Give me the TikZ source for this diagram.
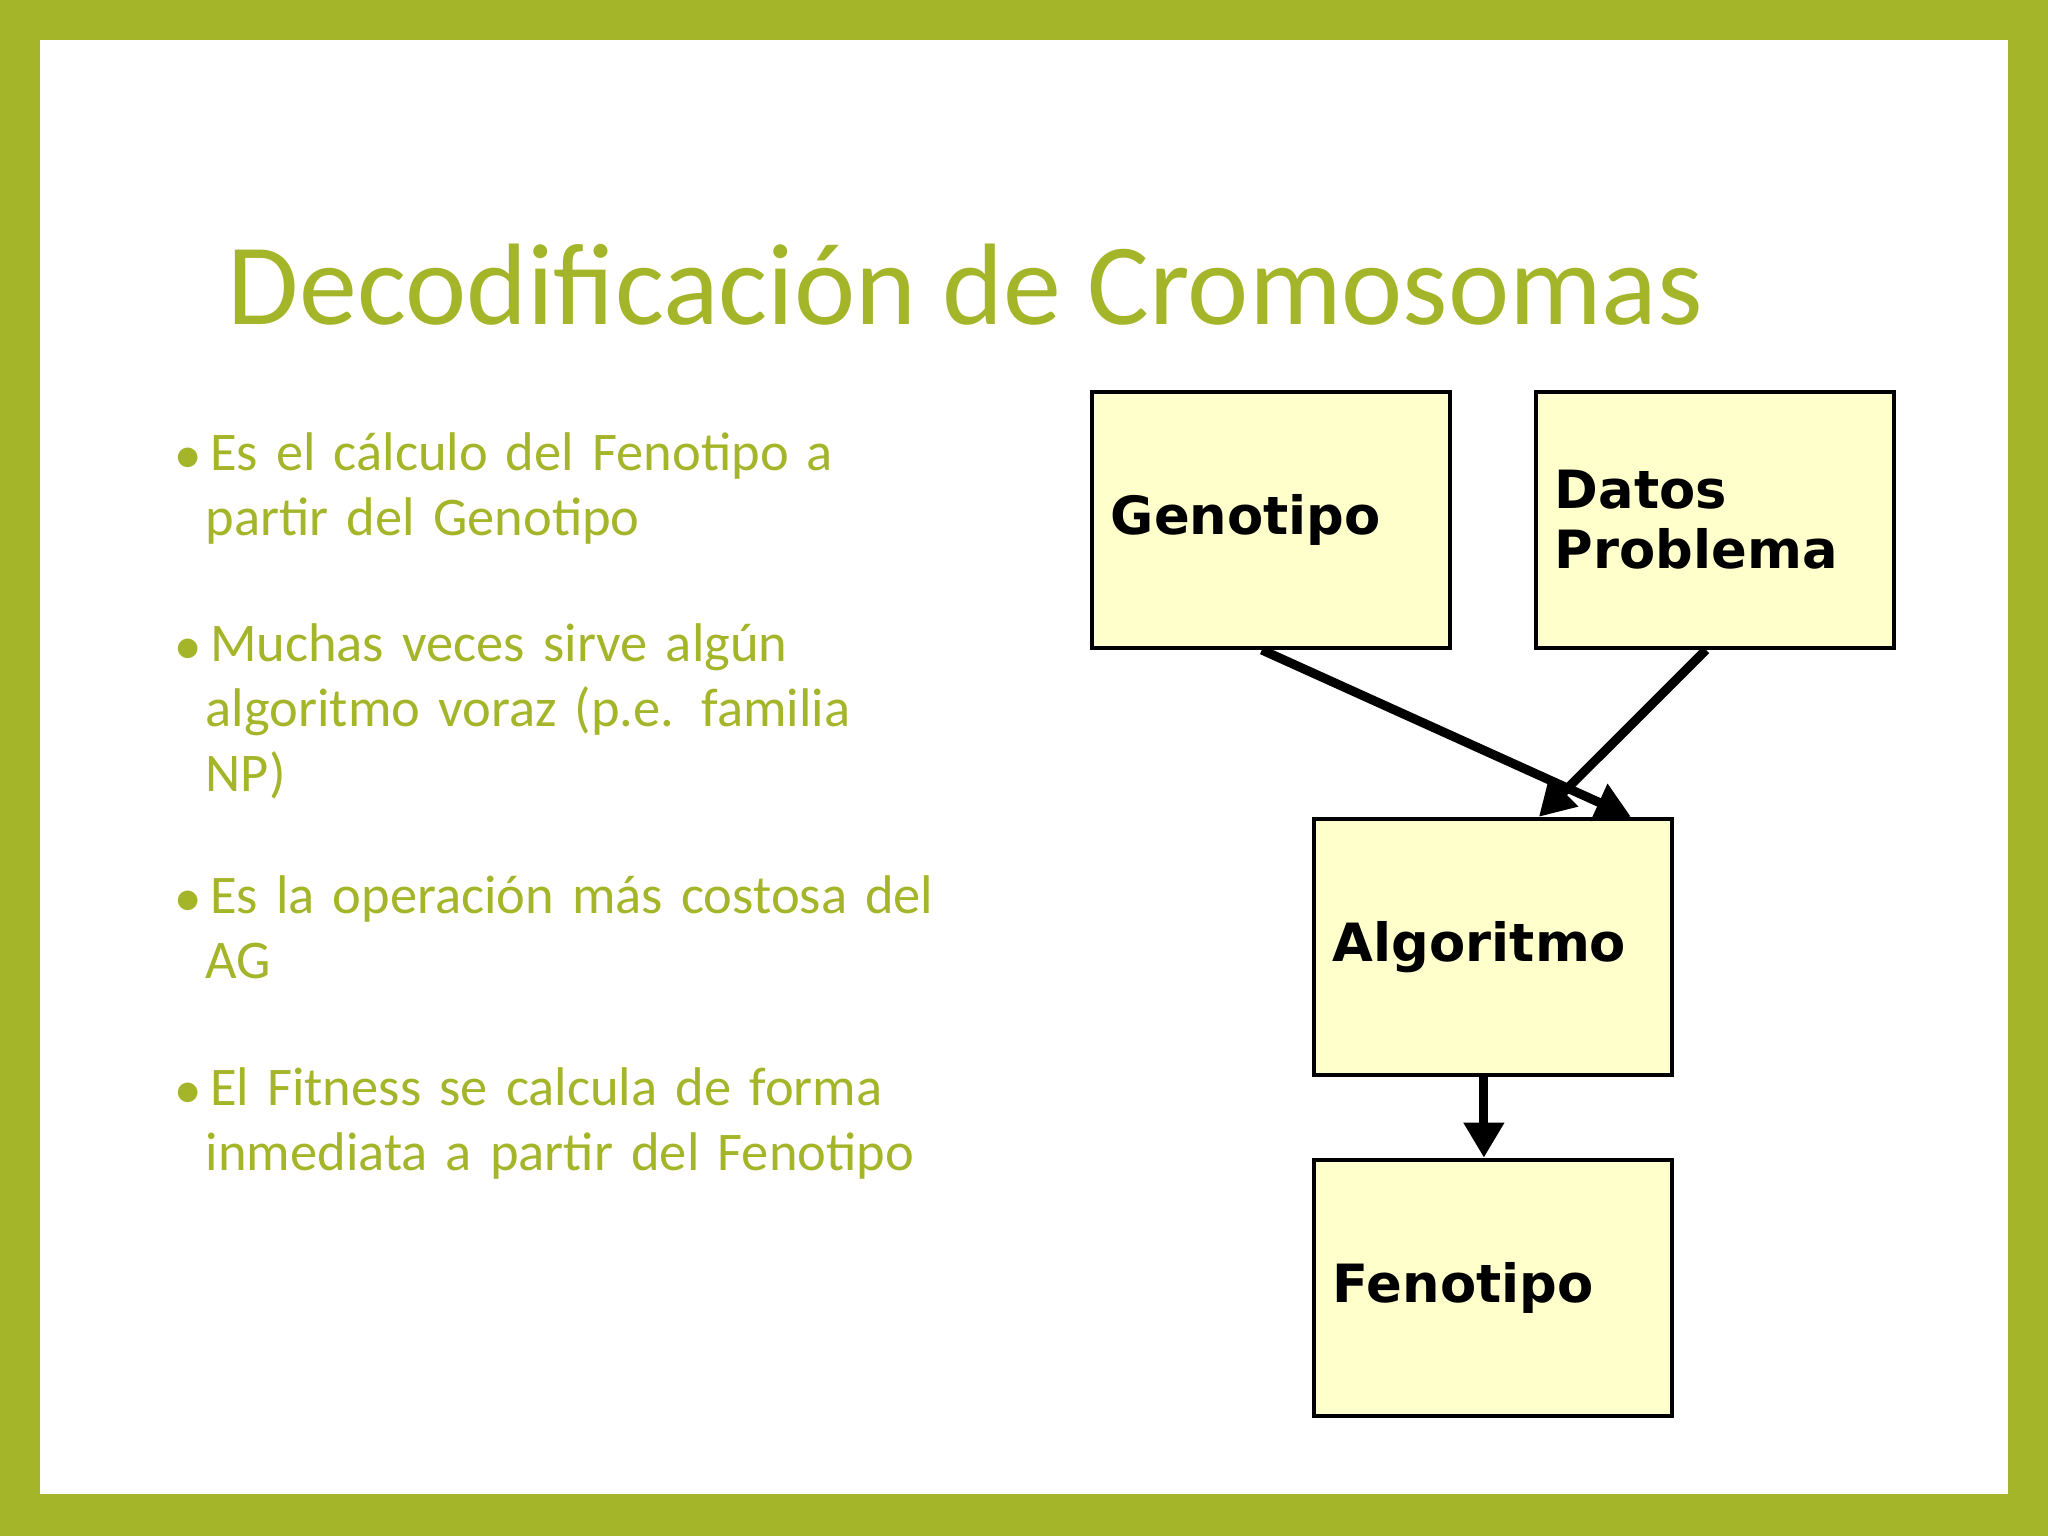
\documentclass[tikz,border=0pt]{standalone}
\usepackage{fontspec}
\setmainfont{Carlito}
\newfontfamily\boxfont{DejaVu Sans}
\usetikzlibrary{arrows.meta}
\definecolor{olive}{HTML}{A5B52A}
\definecolor{boxfill}{HTML}{FFFFCC}
\tikzset{
  stagebox/.style={draw,fill=boxfill,line width=1.2pt,minimum width=3.58cm,minimum height=2.56cm,
    inner sep=0pt,font=\boxfont\bfseries\fontsize{15}{17}\selectfont,align=left,text width=3.2cm},
  flow/.style={line width=2.6pt,-{Triangle[length=10pt,width=11pt]}},
  bullet/.style={anchor=north west,text=olive,font=\fontsize{15.5}{18.5}\selectfont,align=left,text width=7.7cm}
}
\begin{document}
\begin{tikzpicture}[x=0.01306cm,y=-0.01306cm]
  \useasboundingbox (0,0) rectangle (1568,1176);
  \fill[olive] (0,0) rectangle (1568,1176);
  \fill[white] (31,31) rectangle (1537,1144);

  \node (title) at (165,218) [anchor=west,text=olive,font=\fontsize{33}{38}\selectfont] {Decodificación de Cromosomas};

  \node (b1) at (125,322) [bullet] {$\bullet$\,Es el cálculo del Fenotipo a\\\hspace*{0.3cm}partir del Genotipo};
  \node (b2) at (125,468) [bullet] {$\bullet$\,Muchas veces sirve algún\\\hspace*{0.3cm}algoritmo voraz (p.e. familia\\\hspace*{0.3cm}NP)};
  \node (b3) at (125,661) [bullet] {$\bullet$\,Es la operación más costosa del\\\hspace*{0.3cm}AG};
  \node (b4) at (125,808) [bullet] {$\bullet$\,El Fitness se calcula de forma\\\hspace*{0.3cm}inmediata a partir del Fenotipo};

  \node (geno) at (973,398) [stagebox] {Genotipo};
  \node (datos) at (1313,398) [stagebox] {Datos\\Problema};
  \node (algo) at (1143,725) [stagebox] {Algoritmo};
  \node (feno) at (1143,986) [stagebox] {Fenotipo};

  \draw[flow] ([xshift=-0.09cm]geno.south) -- ([xshift=-0.43cm]algo.north east);
  \draw[flow] ([xshift=-0.09cm]datos.south) -- ([xshift=0.46cm]algo.north);
  \draw[flow] ([xshift=-0.09cm]algo.south) -- ([xshift=-0.09cm]feno.north);
\end{tikzpicture}
\end{document}
